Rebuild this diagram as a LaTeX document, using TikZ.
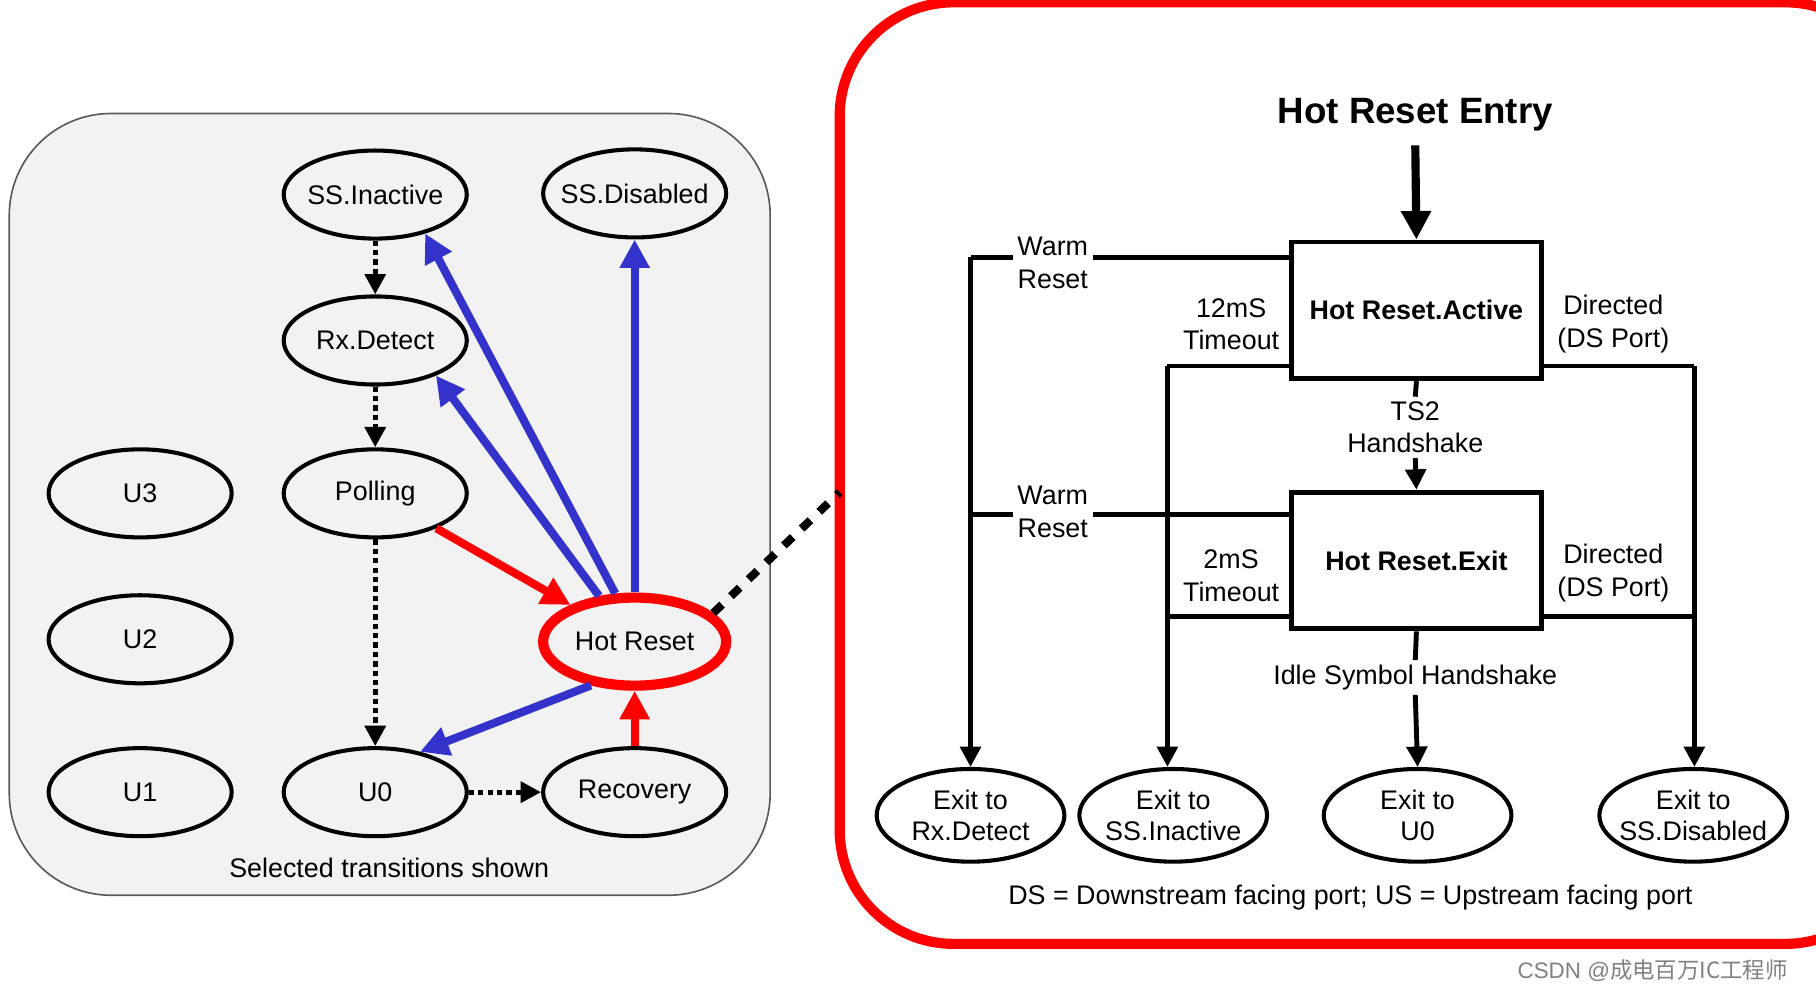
\documentclass[tikz,border=0pt]{standalone}
\usepackage{fontspec}
\setmainfont{Liberation Sans}
\newfontfamily\cjk{Noto Sans CJK SC}
\usetikzlibrary{arrows.meta,shapes.geometric}
\definecolor{myblue}{RGB}{51,51,204}
\begin{document}
\begin{tikzpicture}[x=0.01cm,y=-0.01cm,
  el/.style={draw,line width=1pt,ellipse,minimum width=1.58cm,minimum height=0.76cm,inner ysep=0pt,inner xsep=-9pt,align=center,font=\fontsize{6.6}{7.6}\selectfont},
  ex/.style={draw,line width=1pt,ellipse,minimum width=1.62cm,minimum height=0.8cm,inner ysep=0pt,inner xsep=-9pt,align=center,font=\fontsize{6.6}{7.8}\selectfont},
  bx/.style={draw,line width=1.2pt,minimum width=2.16cm,minimum height=1.18cm,font=\bfseries\fontsize{6.6}{8}\selectfont},
  lbl/.style={align=center,font=\fontsize{6.6}{8}\selectfont,inner sep=1pt},
  dot/.style={densely dotted,line width=1.3pt,-{Triangle[length=5pt,width=5pt]}},
  blu/.style={draw=myblue,line width=2pt,-{Triangle[length=7pt,width=7pt]}},
  rd/.style={draw=red,line width=2pt,-{Triangle[length=7pt,width=7pt]}},
  ln/.style={line width=1.2pt},
  ar/.style={line width=1.2pt,-{Triangle[length=5pt,width=5pt]}}]
\useasboundingbox (0,0) rectangle (1568,855);
\clip (0,0) rectangle (1568,855);
% left panel
\draw[fill=gray!10,draw=gray!70!black,rounded corners=25pt] (8,98) rectangle (665,773);
\node[el] (ssi) at (324,168) {SS.Inactive};
\node[el] (ssd) at (548,167) {SS.Disabled};
\node[el] (rxd) at (324,294) {Rx.Detect};
\node[el] (pol) at (324,426) {Polling};
\node[el] (u3) at (121,426) {U3};
\node[el] (u2) at (121,552) {U2};
\node[el] (u1) at (121,684) {U1};
\node[el] (u0) at (324,684) {U0};
\node[el] (rec) at (548,684) {Recovery};
\node[el,draw=red,line width=2.5pt] (hr) at (548,554) {Hot Reset};
\node[lbl] (sel) at (336,749) {Selected transitions shown};
\draw[dot] (ssi) -- (rxd);
\draw[dot] (rxd) -- (pol);
\draw[dot] (pol) -- (u0);
\draw[dot] (u0) -- (rec);
\draw[rd] (pol) -- (hr);
\draw[rd] (rec) -- (hr);
\draw[blu] (hr.112) -- (ssi.-38);
\draw[blu] (hr.128) -- (rxd.-30);
\draw[blu] (hr.90) -- (ssd.-90);
\draw[blu] (hr.-135) -- (u0.42);
% right panel
\draw[red,line width=2.5pt,rounded corners=28pt] (725,2) rectangle (1640,815);
\coordinate (dz) at (725,425);
\draw[dashed,line width=2pt] (hr.20) -- (dz);
\node[font=\bfseries\fontsize{9}{11}\selectfont] (title) at (1222,99) {Hot Reset Entry};
\node[bx] (act) at (1223,268) {Hot Reset.Active};
\node[bx] (exi) at (1223,484) {Hot Reset.Exit};
\draw[line width=2pt,-{Triangle[length=7pt,width=7pt]}] (title.south) -- (act.north);
\node[lbl] (ts2) at (1222,369) {TS2\\Handshake};
\draw[ln] (act.south) -- (ts2.north);
\draw[ar] (ts2.south) -- (exi.north);
\node[ex] (erx) at (838,704) {Exit to\\Rx.Detect};
\node[ex] (esi) at (1013,704) {Exit to\\SS.Inactive};
\node[ex] (eu0) at (1224,704) {Exit to\\U0};
\node[ex] (esd) at (1462,704) {Exit to\\SS.Disabled};
\node[lbl] (idle) at (1222,585) {Idle Symbol Handshake};
\draw[ln] (exi.south) -- (idle.north);
\draw[ar] (idle.south) -- (eu0.north);
% warm reset
\node[lbl] (wr1) at (909,227) {Warm\\Reset};
\node[lbl] (wr2) at (909,442) {Warm\\Reset};
\coordinate (w1) at (838,222);
\coordinate (w2) at (838,444);
\draw[ln] (act.west |- w1) -- (wr1.east |- w1);
\draw[ln] (wr1.west |- w1) -- (w1);
\draw[ln] (exi.west |- w2) -- (wr2.east |- w2);
\draw[ln] (wr2.west |- w2) -- (w2);
\draw[ar] (w1) -- (erx.north);
% timeouts
\node[lbl] (t12) at (1063,280) {12mS\\Timeout};
\node[lbl] (t2) at (1063,497) {2mS\\Timeout};
\coordinate (t1c) at (1008,316);
\coordinate (t2c) at (1008,532);
\draw[ln] (act.west |- t1c) -- (t1c);
\draw[ln] (exi.west |- t2c) -- (t2c);
\draw[ar] (t1c) -- (esi.north -| t1c);
% directed
\node[lbl] (d1) at (1393,280) {Directed\\(DS Port)};
\node[lbl] (d2) at (1393,495) {Directed\\(DS Port)};
\coordinate (d1c) at (1463,316);
\coordinate (d2c) at (1463,532);
\draw[ln] (act.east |- d1c) -- (d1c);
\draw[ln] (exi.east |- d2c) -- (d2c);
\draw[ar] (d1c) -- (esd.north -| d1c);
\node[lbl] (foot) at (1166,775) {DS = Downstream facing port; US = Upstream facing port};
\node[text=gray,anchor=east,font=\fontsize{5.5}{6}\selectfont] (wm) at (1556,838) {CSDN @{\cjk 成电百万IC工程师}};
\end{tikzpicture}
\end{document}
